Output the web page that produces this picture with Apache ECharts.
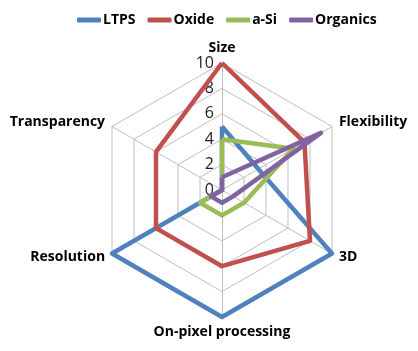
<!DOCTYPE html>
<html><head><meta charset="utf-8">
<script src="https://cdn.jsdelivr.net/npm/echarts@6/dist/echarts.min.js"></script>
<style>html,body{margin:0;padding:0;background:#fff}#c{width:418px;height:351px}</style>
</head><body><div id="c"></div>
<script>
const indicators = ['Size', 'Flexibility', '3D', 'On-pixel processing', 'Resolution', 'Transparency'];
const seriesNames = ['LTPS', 'Oxide', 'a-Si', 'Organics'];
const ltps = [5, 3.3, 10, 10, 10, 0];
const oxide = [10, 7.5, 8, 6, 6, 6];
const aSi = [4, 6.5, 2, 2, 2, 0];
const organics = [1, 9, 1, 1, 1, 0];
const tickLabels = ['0', '2', '4', '6', '8', '10'];
const colors = ['#4F81BD', '#C0504D', '#9BBB59', '#8064A2'];
const values = [ltps, oxide, aSi, organics];

// ECharts radar runs counter-clockwise; reorder so axes run clockwise like the original
const order = [0, 5, 4, 3, 2, 1];
const reorder = (arr) => order.map(i => arr[i]);

const chart = echarts.init(document.getElementById('c'));
const font = 'Open Sans';
chart.setOption({
  backgroundColor: '#fff',
  animation: false,
  color: colors,
  legend: {
    top: 8, left: 72, itemWidth: 24, itemHeight: 5, itemGap: 12,
    icon: 'roundRect',
    textStyle: {fontFamily: font, fontWeight: 'bold', fontSize: 14, color: '#000', padding: [0,0,0,-3]},
    data: seriesNames
  },
  radar: {
    center: [222, 190], radius: 127, startAngle: 90, shape: 'polygon', splitNumber: 5,
    indicator: reorder(indicators).map(n => ({name: n, min: 0, max: 10})),
    axisName: {fontFamily: font, fontWeight: 'bold', fontSize: 14, color: '#000'},
    nameGap: 8,
    splitArea: {show: false},
    splitLine: {lineStyle: {color: '#bfbfbf', width: 1}},
    axisLine: {lineStyle: {color: '#bfbfbf', width: 1}}
  },
  polar: {center: [222, 190], radius: 127},
  angleAxis: {show: false, startAngle: 90, min: 0, max: 360},
  radiusAxis: {
    min: 0, max: 10, interval: 2,
    axisLine: {show: false}, axisTick: {show: false}, splitLine: {show: false},
    axisLabel: {fontFamily: font, fontSize: 16, color: '#222', margin: 8,
      formatter: (v) => tickLabels[Math.round(v / 2)]}
  },
  series: [{
    type: 'radar', symbol: 'none',
    data: seriesNames.map((n, i) => ({name: n, value: reorder(values[i]),
      lineStyle: {color: colors[i], width: 4.5}, itemStyle: {color: colors[i]}}))
  }]
});
</script></body></html>
